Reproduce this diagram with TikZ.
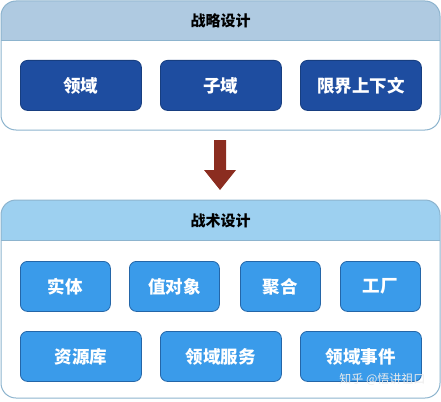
\documentclass[tikz,border=0pt]{standalone}
\usepackage{fontspec}
\setmainfont{Noto Sans CJK SC}
\newfontfamily\cjk{Noto Sans CJK SC}
\usetikzlibrary{positioning}
\definecolor{panelborder}{HTML}{8DB4CE}
\definecolor{hdrA}{HTML}{AFCAE1}
\definecolor{hdrB}{HTML}{9DD0F0}
\definecolor{darkbox}{HTML}{1E4DA0}
\definecolor{darkboxb}{HTML}{173E80}
\definecolor{lightbox}{HTML}{3A9BEA}
\definecolor{lightboxb}{HTML}{2466A8}
\definecolor{arrowred}{HTML}{8B2D20}
\tikzset{
  panel/.style={draw=panelborder, line width=1pt, rounded corners=15pt, fill=white},
  title/.style={font=\cjk\bfseries\fontsize{15}{18}\selectfont, text=black},
  dbox/.style={draw=darkboxb, fill=darkbox, rounded corners=7pt, line width=0.8pt,
    minimum width=121pt, minimum height=50pt, text=white, font=\cjk\bfseries\fontsize{17.5}{20}\selectfont, anchor=north west},
  lbox/.style={draw=lightboxb, fill=lightbox, rounded corners=7pt, line width=0.8pt,
    minimum height=50pt, text=white, font=\cjk\bfseries\fontsize{17.5}{20}\selectfont, anchor=north west},
}
\begin{document}
\begin{tikzpicture}[x=1pt,y=-1pt]
\useasboundingbox (0,0) rectangle (441,401);
% top panel
\begin{scope}
\clip[rounded corners=15pt] (1,1) rectangle (440,130);
\fill[white] (1,1) rectangle (440,130);
\fill[hdrA] (1,1) rectangle (440,40);
\draw[panelborder, line width=0.8pt] (1,40) -- (440,40);
\end{scope}
\draw[panelborder, line width=1pt, rounded corners=15pt] (1,1) rectangle (440,130);
\node[title] (t1) at (220.5,20.5) {战略设计};
\node[dbox] (a1) at (20,60) {领域};
\node[dbox] (a2) at (160,60) {子域};
\node[dbox] (a3) at (300,60) {限界上下文};
% arrow
\coordinate (s) at (220,140);
\coordinate (e) at (220,190);
\fill[arrowred] (214,140) -- (226,140) -- (226,170) -- (236,170) -- (220,190) -- (204,170) -- (214,170) -- cycle;
% bottom panel
\begin{scope}
\clip[rounded corners=15pt] (1,200) rectangle (440,398);
\fill[white] (1,200) rectangle (440,398);
\fill[hdrB] (1,200) rectangle (440,240);
\draw[panelborder, line width=0.8pt] (1,240) -- (440,240);
\end{scope}
\draw[panelborder, line width=1pt, rounded corners=15pt] (1,200) rectangle (440,398);
\node[title] (t2) at (220.5,220.5) {战术设计};
\node[lbox, minimum width=90pt] (b1) at (20,261) {实体};
\node[lbox, minimum width=90pt] (b2) at (129,261) {值对象};
\node[lbox, minimum width=80pt] (b3) at (240,261) {聚合};
\node[lbox, minimum width=80pt] (b4) at (340,261) {工厂};
\node[lbox, minimum width=121pt] (c1) at (20,331) {资源库};
\node[lbox, minimum width=121pt] (c2) at (160,331) {领域服务};
\node[lbox, minimum width=121pt] (c3) at (300,331) {领域事件};
\node[font=\cjk\fontsize{12}{14}\selectfont, text=white!85!gray, anchor=east] (wm) at (429,379) {知乎 @悟讲祖口};
\end{tikzpicture}
\end{document}
